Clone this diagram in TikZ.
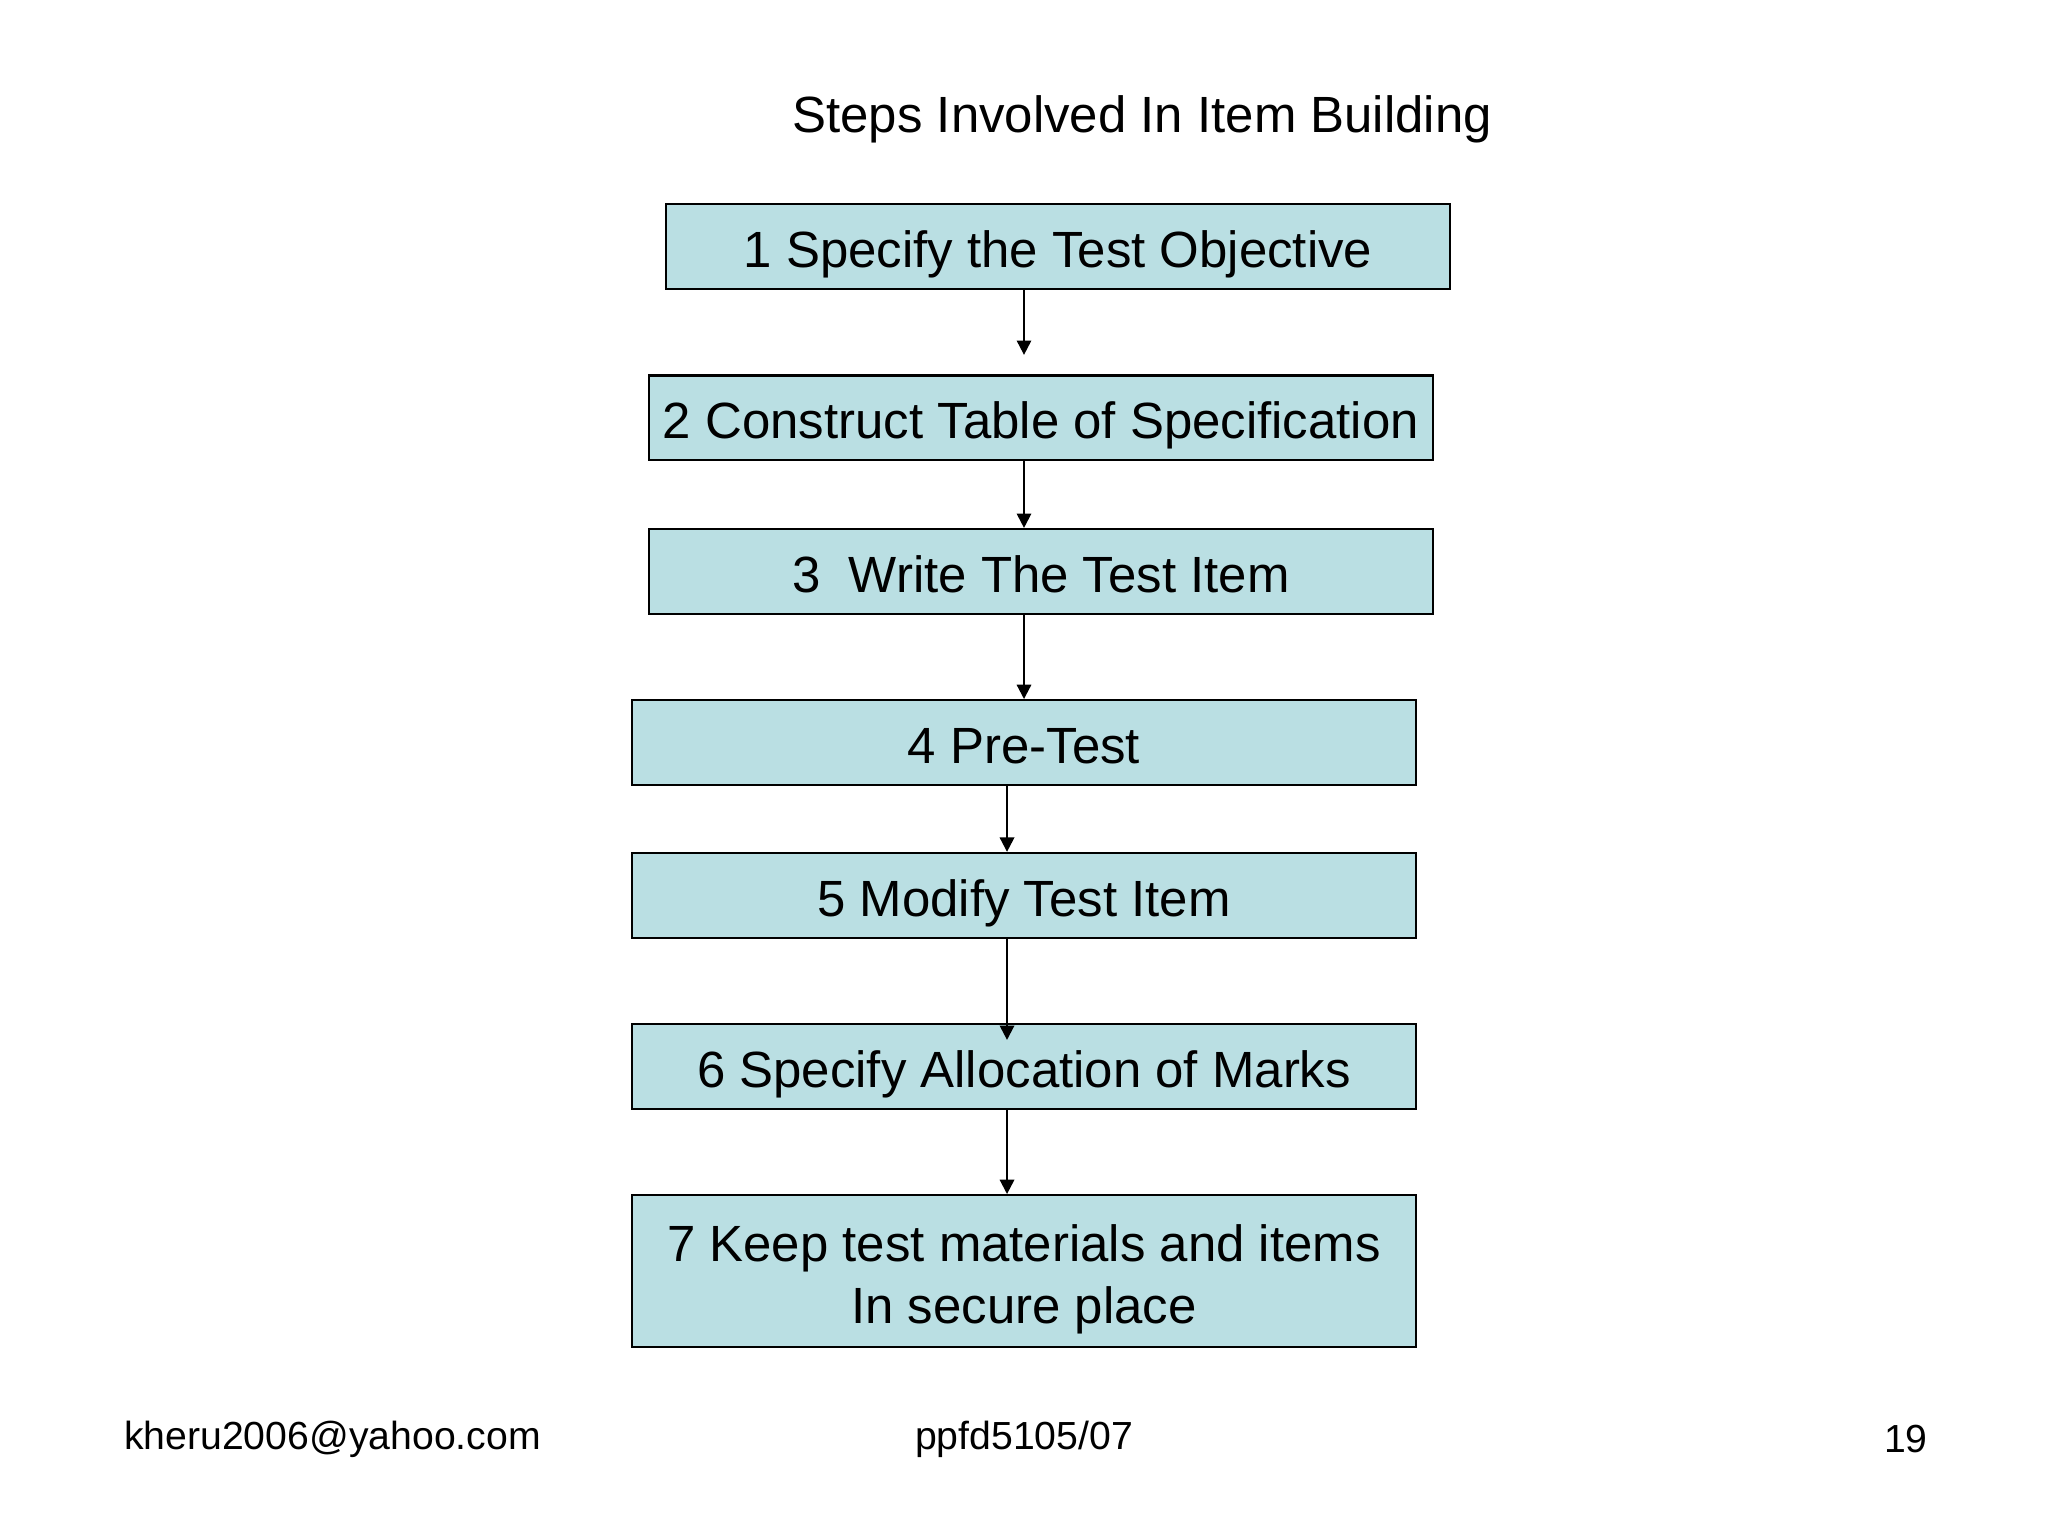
\documentclass[tikz,border=0pt]{standalone}
\usepackage{fontspec}
\setmainfont{Liberation Sans}
\usetikzlibrary{arrows.meta}
\definecolor{boxblue}{RGB}{186,223,227}

\begin{document}
\begin{tikzpicture}[x=0.5pt,y=-0.5pt,>={Triangle[length=5.5pt,width=5.5pt]},
itembox/.style={draw,line width=0.8pt,fill=boxblue,minimum width=300pt,
minimum height=32.5pt,inner sep=0pt,align=center,text height=16pt,text depth=0pt,
font=\fontsize{19.5}{23.5}\selectfont}]
\useasboundingbox (0,0) rectangle (1568,1176);
\node(title) at (874.5,91) {\fontsize{19.5}{23.5}\selectfont Steps Involved In Item Building};
\node[itembox](s1) at (810,189) {1 Specify the Test Objective};
\node[itembox](s2) at (797,320) {2 Construct Table of Specification};
\node[itembox](s3) at (797,437.5) {3\ \ Write The Test Item};
\node[itembox](s4) at (784,568.5) {4 Pre-Test};
\node[itembox](s5) at (784,685.5) {5 Modify Test Item};
\node[itembox](s6) at (784,816.5) {6 Specify Allocation of Marks};
\node[itembox,minimum height=58pt,text height=40pt](s7) at (784,973) {7 Keep test materials and items\\In secure place};
\coordinate(colA) at (784,0);
\coordinate(colB) at (771,0);
\path[->,line width=0.8pt](s1.south -| colA) edge[shorten >=7.5pt] (s2.north -| colA);
\path[->,line width=0.8pt](s2.south -| colA) edge (s3.north -| colA);
\path[->,line width=0.8pt](s3.south -| colA) edge (s4.north -| colA);
\path[->,line width=0.8pt](s4.south -| colB) edge (s5.north -| colB);
\path[->,line width=0.8pt](s5.south -| colB) edge[shorten >=-6.5pt] (s6.north -| colB);
\path[->,line width=0.8pt](s6.south -| colB) edge (s7.north -| colB);
% footer
\node[anchor=west,font=\fontsize{15}{18}\selectfont](mail) at (88,1102) {kheru2006@yahoo.com};
\node[font=\fontsize{15}{18}\selectfont](code) at (784,1102) {ppfd5105/07};
\node[anchor=east,font=\fontsize{15}{18}\selectfont](page) at (1483,1102) {19};
\end{tikzpicture}
\end{document}
